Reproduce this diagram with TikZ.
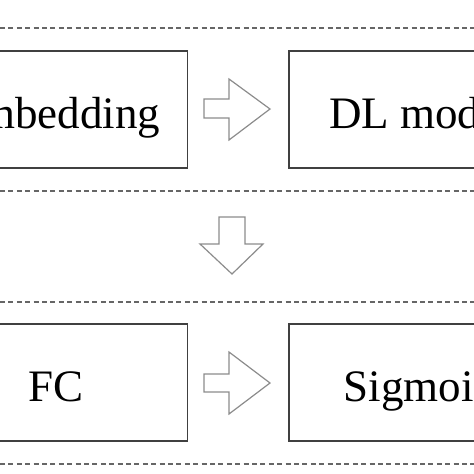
\documentclass[tikz,border=0pt]{standalone}
\usepackage{fontspec}
\setmainfont{Liberation Serif}
\begin{document}
\begin{tikzpicture}[x=1pt,y=-1pt,
  stagebox/.style={draw=black!75,line width=1.4pt,fill=white},
  blockarrow/.style={draw=black!45,line width=1.2pt,fill=white,line join=miter},
  sep/.style={draw=black!60,line width=1.3pt,dash pattern=on 5pt off 3.4pt},
  lbl/.style={font=\fontsize{45}{50}\selectfont,inner sep=0pt}]
\useasboundingbox (0,0) rectangle (474,474);
\clip (0,0) rectangle (474,474);
\fill[white] (0,0) rectangle (474,474);
% separators
\draw[sep] (0,28) -- (474,28);
\draw[sep] (0,191) -- (474,191);
\draw[sep] (0,302) -- (474,302);
\draw[sep] (0,464) -- (474,464);
% boxes
\draw[stagebox] (-74.5,51) rectangle (187.5,168);
\draw[stagebox] (289,51) rectangle (551,168);
\draw[stagebox] (-74.5,324) rectangle (187.5,441);
\draw[stagebox] (289,324) rectangle (551,441);
% labels
\node[lbl,anchor=base] (emb) at (56.5,128) {Embedding};
\node[lbl,anchor=base] (dl) at (421,128) {DL model};
\node[lbl,anchor=base] (fc) at (56.5,401) {FC};
\node[lbl,anchor=base] (sig) at (420,401) {Sigmoid};
% block arrows
\draw[blockarrow] (204,99) -- (229,99) -- (229,79) -- (270,109) -- (229,140) -- (229,118) -- (204,118) -- cycle;
\draw[blockarrow] (204,374) -- (229,374) -- (229,352) -- (270,383) -- (229,414) -- (229,392) -- (204,392) -- cycle;
\draw[blockarrow] (219,217) -- (245,217) -- (245,244) -- (263,244) -- (232,274) -- (200,244) -- (219,244) -- cycle;
\end{tikzpicture}
\end{document}
